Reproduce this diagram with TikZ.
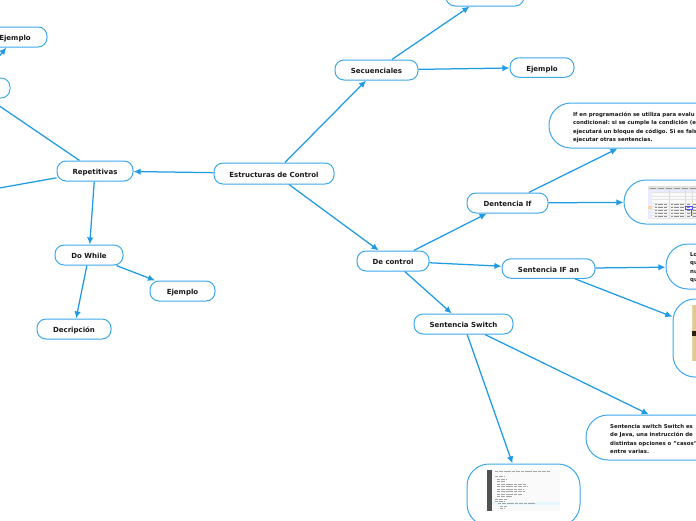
\documentclass[tikz,border=0pt]{standalone}
\usepackage{fontspec}
\setmainfont{DejaVu Sans}
\usetikzlibrary{arrows.meta}
\definecolor{edgeblue}{HTML}{1F9BE3}
\definecolor{boxblue}{HTML}{3DA8EA}
\definecolor{wood}{HTML}{E5C68F}
\tikzset{
  box/.style={draw=boxblue,line width=1pt,fill=white,rounded corners=#1,inner sep=0pt,outer sep=0.6pt,font=\bfseries\fontsize{7}{8}\selectfont,text=black!90,text height=7pt,text depth=0pt},
  box/.default=9pt,
  link/.style={draw=edgeblue,line width=1.25pt,-{Latex[length=7pt,width=6.5pt]}},
  plain/.style={draw=edgeblue,line width=1.25pt},
  para/.style={font=\bfseries\fontsize{5.4}{8.35}\selectfont\frenchspacing,align=left,inner sep=0pt,anchor=north west,text=black!90},
}
\begin{document}
\begin{tikzpicture}[x=1pt,y=-1pt]
\useasboundingbox (0,0) rectangle (696,520);
\clip (0,0) rectangle (696,520);
\fill[white] (0,0) rectangle (696,520);
% nodes
\node[box,minimum width=120pt,minimum height=21pt] (root) at (274,173.5) {Estructuras de Control};
\node[box,minimum width=83pt,minimum height=20pt] (sec) at (376.5,70) {Secuenciales};
\node[box,minimum width=78pt,minimum height=20pt] (sectop) at (485,-4) {};
\node[box,minimum width=64pt,minimum height=19.5pt] (secej) at (542,67.5) {Ejemplo};
\node[box,minimum width=72pt,minimum height=20pt] (ctl) at (393,261) {De control};
\node[box,minimum width=81pt,minimum height=20pt] (dif) at (507.5,203) {Dentencia If};
\node[box,minimum width=93pt,minimum height=19.5pt] (ifan) at (548.5,268.5) {Sentencia IF an};
\node[box,minimum width=99pt,minimum height=20pt] (sw) at (463.5,324) {Sentencia Switch};
\node[box=22pt,minimum width=230pt,minimum height=45pt] (iftext) at (664,125.5) {};
\node[box=22pt,minimum width=136pt,minimum height=44pt] (ifimg) at (692,202) {};
\node[box=22pt,minimum width=120pt,minimum height=45pt] (lo) at (726,266.5) {};
\node[box=22pt,minimum width=108pt,minimum height=78pt] (big) at (727,338) {};
\node[box=22pt,minimum width=220pt,minimum height=45pt] (swtext) at (696,437.5) {};
\node[box=22pt,minimum width=113pt,minimum height=62pt] (swimg) at (523.5,495) {};
\node[box,minimum width=76pt,minimum height=20pt] (rep) at (95,171) {Repetitivas};
\node[box,minimum width=68pt,minimum height=20pt] (dw) at (89,255) {Do While};
\node[box,minimum width=65pt,minimum height=20pt] (dwej) at (182.5,291) {Ejemplo};
\node[box,minimum width=74pt,minimum height=20pt] (dec) at (74,329) {Decripción};
\node[box,minimum width=74pt,minimum height=20pt] (stub) at (-27,88) {};
\node[box,minimum width=64pt,minimum height=20pt] (lej) at (15,37) {Ejemplo};
\coordinate (offleft) at (-40,195);
% connectors
\draw[link] (root) -- (sec);
\draw[link] (sec) -- (sectop);
\draw[link] (sec) -- (secej);
\draw[link] (root) -- (ctl);
\draw[link] (root) -- (rep);
\draw[link] (ctl) -- (dif);
\draw[link] (ctl) -- (ifan);
\draw[link] (ctl) -- (sw);
\draw[link] (dif) -- (iftext);
\draw[link] (dif) -- (ifimg);
\draw[link] (ifan) -- (lo);
\draw[link] (ifan) -- (big);
\draw[link] (sw) -- (swtext);
\draw[link] (sw) -- (swimg);
\draw[link] (rep) -- (dw);
\draw[link] (dw) -- (dwej);
\draw[link] (dw) -- (dec);
\draw[link] (rep) -- (stub);
\draw[plain] (rep) -- (offleft);
\draw[link] (stub) -- (lej);
% paragraph texts
\node[para] (t1) at (573,112) {If en programación se utiliza para evalu\\condicional: si se cumple la condición (e\\ejecutará un bloque de código. Si es fals\\ejecutar otras sentencias.};
\node[para] (t2) at (690,252.5) {Lo\\qu\\nu\\qu};
\node[para] (t3) at (610,424) {Sentencia switch Switch es\\de Java, una instrucción de\\distintas opciones o "casos"\\entre varias.};
% spreadsheet thumbnail
\fill[black!2] (648,186) rectangle (700,219);
\fill[black!12] (648,186) rectangle (700,190);
\draw[black!40,line width=0.8pt,dash pattern=on 6pt off 2pt] (650,188) -- (696,188);
\fill[blue!8] (648,190) rectangle (700,192.5);
\fill[blue!8] (648,190) rectangle (651.5,219);
\fill[orange!35] (648,206) rectangle (651.5,208.5);
\foreach \x in {669,685,692}{\draw[black!15,line width=0.4pt] (\x,190) -- (\x,219);}
\foreach \y in {192.5,196,199.5,203,206,209,212,215,218}{\draw[black!10,line width=0.3pt] (651.5,\y) -- (700,\y);}
\foreach \y in {204.5,207.5,210.5,213.5,216.5}{%
  \draw[black!45,line width=0.8pt,dash pattern=on 2pt off 0.6pt on 3pt off 0.6pt] (655,\y) -- (667,\y);
  \draw[black!45,line width=0.8pt,dash pattern=on 2pt off 0.6pt on 3pt off 0.6pt] (671,\y) -- (684,\y);
  \draw[black!45,line width=0.8pt] (687,\y) -- (690,\y);
  \draw[black!45,line width=0.8pt] (693,\y) -- (696,\y);}
\draw[blue!70,line width=0.6pt] (685,206) rectangle (692,209);
\draw[blue!70,line width=0.8pt] (691,209) -- (691,216);
% wood thumbnail
\fill[wood] (692,305) rectangle (700,361);
\fill[wood!70!white] (692,305) rectangle (693,361);
\fill[black!75!brown] (692,331) rectangle (700,336);
% code thumbnail
\fill[black!2] (487,470) rectangle (560,511);
\fill[black!68] (487,470) rectangle (492,511);
\fill[cyan!10] (492,502) rectangle (560,505);
\foreach \y/\a/\l in {471.5/495/550,476/495/505,479/497/507,481.5/497/505,484/497/526,486.5/497/528,489/497/523,491.5/497/525,494/497/522,496.5/497/512,499/495/507,501/495/505,503.5/498/535,506/500/507,508.5/500/505}{\draw[black!35,line width=0.6pt,dash pattern=on 3pt off 0.8pt on 4pt off 0.8pt] (\a,\y) -- (\l,\y);}
\end{tikzpicture}
\end{document}
